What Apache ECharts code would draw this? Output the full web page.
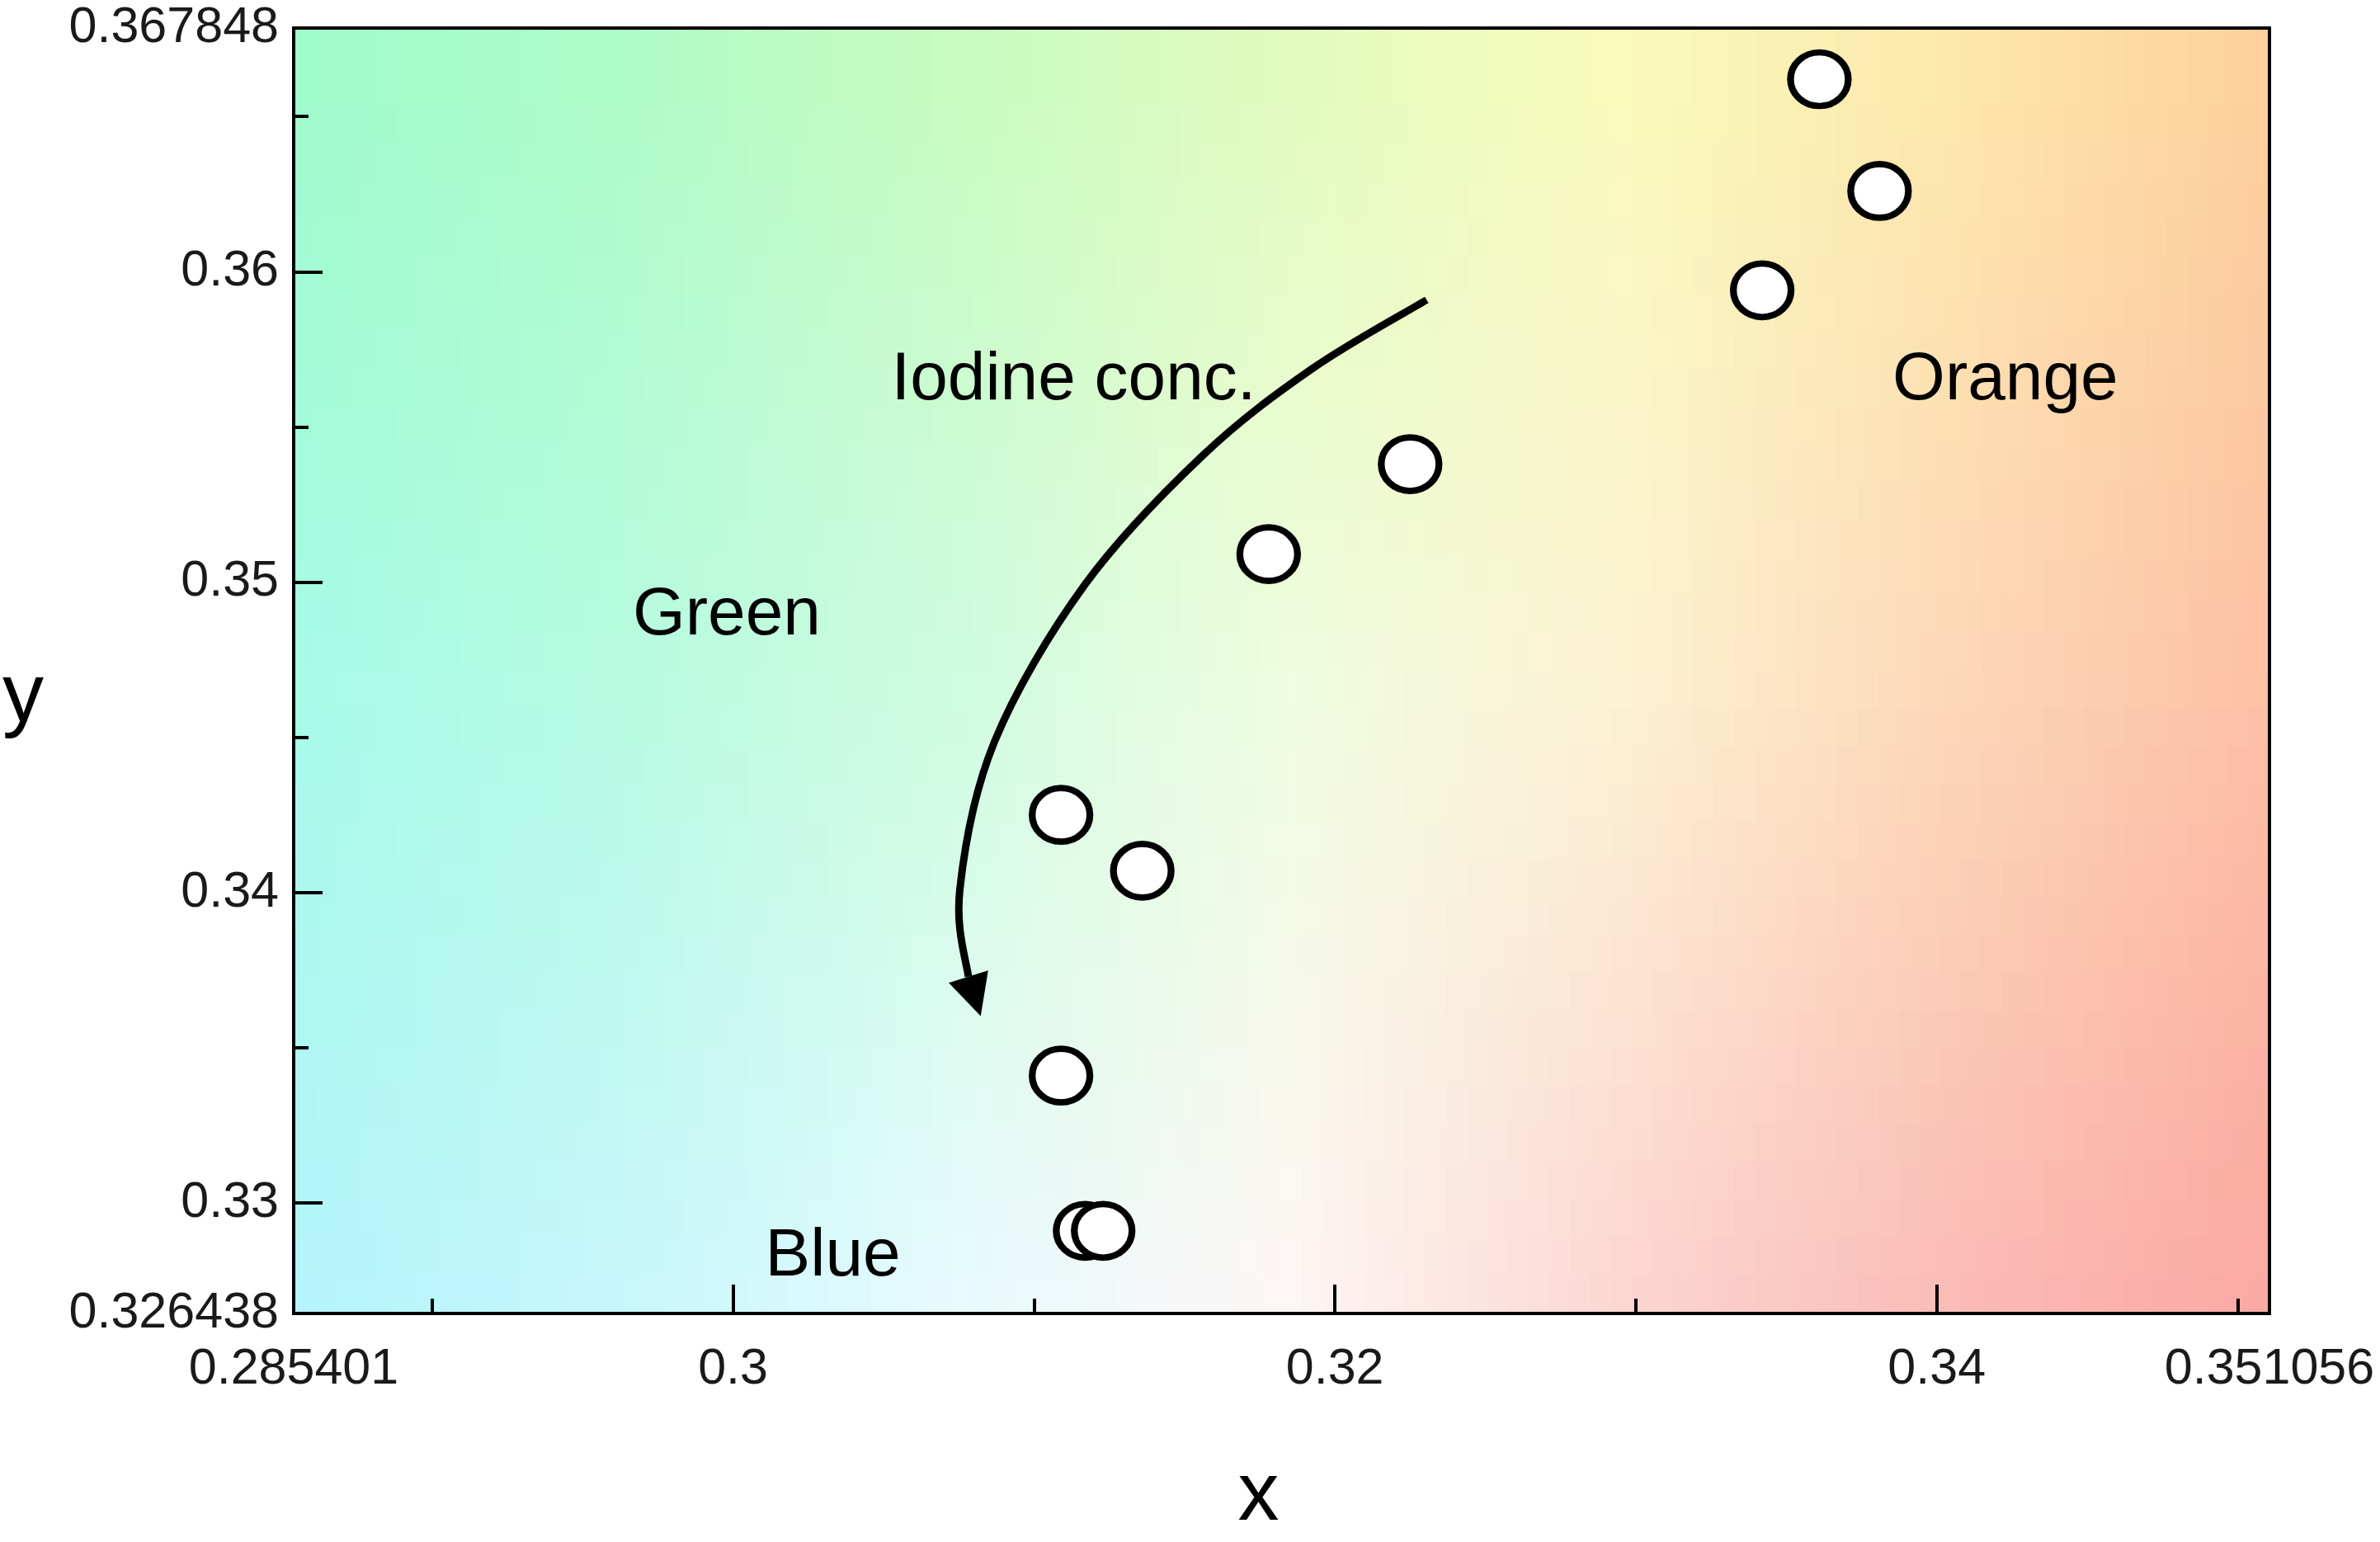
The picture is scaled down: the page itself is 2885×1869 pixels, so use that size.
<!DOCTYPE html>
<html>
<head>
<meta charset="utf-8">
<script src="https://cdn.jsdelivr.net/npm/echarts@6/dist/echarts.min.js"></script>
<style>
html,body{margin:0;padding:0;background:#ffffff;}
#chart{width:2885px;height:1869px;}
</style>
</head>
<body>
<div id="chart"></div>
<script>
// ---- axis ranges and tick labels ----
const X_MIN = 0.285401, X_MAX = 0.351056;
const Y_MIN = 0.326438, Y_MAX = 0.367848;
const xTickLabels = ['0.285401', '0.3', '0.32', '0.34', '0.351056'];
const yTickLabels = ['0.326438', '0.33', '0.34', '0.35', '0.36', '0.367848'];

// ---- chromaticity points (x, y) ----
const pointX = [0.3361, 0.3381, 0.3342, 0.3225, 0.3178, 0.3109, 0.3136, 0.3109, 0.3117, 0.3123];
const pointY = [0.3662, 0.3626, 0.3594, 0.3538, 0.3509, 0.3425, 0.3407, 0.3341, 0.3291, 0.3291];

// ---- "Iodine conc." arrow path (data coords); last point = arrow tip ----
const arrowX = [0.32305, 0.31927, 0.31560, 0.31168, 0.30869, 0.30754, 0.30783, 0.30823];
const arrowY = [0.35909, 0.35689, 0.35407, 0.34990, 0.34486, 0.34012, 0.33727, 0.33602];

// ---- annotation texts and their anchor points (data coords) ----
const annotationText = ['Iodine conc.', 'Green', 'Orange', 'Blue'];
const annotationX = [0.31132, 0.29979, 0.34228, 0.30332];
const annotationY = [0.35650, 0.34892, 0.35650, 0.32826];

// ---- background colour field (rows: top, middle, bottom; columns left -> right) ----
const bgTop    = ['#9ffccb', '#b0fcc7', '#c8fbc1', '#e2fbbe', '#f9fbbc', '#fde8ac', '#fdcf9c'];
const bgMid    = ['#a8fbe8', '#b8fbe2', '#d0fce0', '#f0fde0', '#fdf2d4', '#fdd8b8', '#fdc0a4'];
const bgBottom = ['#b5f4fc', '#c8f7fc', '#e8fbfe', '#fef6f5', '#fcd6d1', '#fbbcb7', '#fba8a3'];

const FONT = '"Liberation Sans", Arial, Helvetica, sans-serif';

function fmt(labels) {
  return function (v) {
    for (const l of labels) {
      if (Math.abs(parseFloat(l) - v) < 1e-7) return l;
    }
    return String(+v.toFixed(6));
  };
}

const chart = echarts.init(document.getElementById('chart'), null, {renderer: 'canvas'});

const scatterData = pointX.map((x, i) => [x, pointY[i]]);

function renderArrow(params, api) {
  if (params.dataIndex !== 0) return null;
  const pts = arrowX.map((x, i) => api.coord([x, arrowY[i]]));
  const n = pts.length;
  const tip = pts[n - 1];
  const headLen = 50, headHalf = 25;
  const prev = pts[n - 2];
  let ux = tip[0] - prev[0], uy = tip[1] - prev[1];
  const L = Math.hypot(ux, uy) || 1; ux /= L; uy /= L;
  const base = [tip[0] - ux * headLen, tip[1] - uy * headLen];
  const path = pts.slice(0, n - 1);
  path[path.length - 1] = base;
  const all = path.concat([tip]);
  let d = 'M' + path[0][0] + ' ' + path[0][1];
  for (let i = 0; i < path.length - 1; i++) {
    const p0 = all[i - 1] || all[i], p1 = all[i], p2 = all[i + 1], p3 = all[i + 2] || all[i + 1];
    const c1 = [p1[0] + (p2[0] - p0[0]) / 6, p1[1] + (p2[1] - p0[1]) / 6];
    const c2 = [p2[0] - (p3[0] - p1[0]) / 6, p2[1] - (p3[1] - p1[1]) / 6];
    d += ' C' + c1[0] + ' ' + c1[1] + ' ' + c2[0] + ' ' + c2[1] + ' ' + p2[0] + ' ' + p2[1];
  }
  const vx = -uy, vy = ux;
  return {
    type: 'group',
    children: [
      {type: 'path', shape: {pathData: d},
       style: {fill: null, stroke: '#000', lineWidth: 9, lineCap: 'butt', lineJoin: 'round'}},
      {type: 'polygon',
       shape: {points: [tip, [base[0] + vx * headHalf, base[1] + vy * headHalf], [base[0] - vx * headHalf, base[1] - vy * headHalf]]},
       style: {fill: '#000', stroke: null}}
    ]
  };
}

const tickStyle = {color: '#000', width: 4};

chart.setOption({
  animation: false,
  backgroundColor: '#ffffff',
  grid: {
    left: 355, top: 34, width: 2396, height: 1560,
    show: true, borderColor: '#000', borderWidth: 4, backgroundColor: 'transparent',
    containLabel: false
  },
  xAxis: {
    type: 'value', min: X_MIN, max: X_MAX,
    splitNumber: 3, minInterval: 0.02, maxInterval: 0.02,
    name: 'x', nameLocation: 'middle', nameGap: 172,
    nameTextStyle: {fontSize: 100, color: '#000', fontFamily: FONT, padding: [0, 56, 0, 0]},
    axisLine: {show: true, lineStyle: {color: '#000', width: 4}},
    axisTick: {show: true, inside: true, length: 35, lineStyle: tickStyle},
    minorTick: {show: true, splitNumber: 2, length: 18, lineStyle: tickStyle},
    splitLine: {show: false}, minorSplitLine: {show: false},
    axisLabel: {
      show: true, margin: 38, fontSize: 61, color: '#1a1a1a', fontFamily: FONT,
      showMinLabel: true, showMaxLabel: true, formatter: fmt(xTickLabels)
    }
  },
  yAxis: {
    type: 'value', min: Y_MIN, max: Y_MAX,
    splitNumber: 4, minInterval: 0.01, maxInterval: 0.01,
    name: 'y', nameLocation: 'middle', nameRotate: 0, nameGap: 303,
    nameTextStyle: {fontSize: 100, color: '#000', fontFamily: FONT, verticalAlign: 'top', lineHeight: 66},
    axisLine: {show: true, lineStyle: {color: '#000', width: 4}},
    axisTick: {show: true, inside: true, length: 35, lineStyle: tickStyle},
    minorTick: {show: true, splitNumber: 2, length: 18, lineStyle: tickStyle},
    splitLine: {show: false}, minorSplitLine: {show: false},
    axisLabel: {
      show: true, margin: 18, fontSize: 61, color: '#1a1a1a', fontFamily: FONT,
      showMinLabel: true, showMaxLabel: true, formatter: fmt(yTickLabels)
    }
  },
  series: [
    {
      name: 'Iodine conc. arrow', type: 'custom', silent: true, z: 3, clip: false,
      data: [[arrowX[0], arrowY[0]]],
      encode: {x: 0, y: 1},
      renderItem: renderArrow
    },
    {
      name: 'Chromaticity', type: 'scatter', data: scatterData,
      symbol: 'circle', symbolSize: [70, 65], z: 5,
      itemStyle: {color: '#ffffff', borderColor: '#000', borderWidth: 8, opacity: 1}
    }
  ]
});

function buildBackground(w, h) {
  const rows = [bgTop, bgMid, bgBottom];
  const n = bgTop.length;
  const tiny = document.createElement('canvas');
  tiny.width = n; tiny.height = rows.length;
  const tctx = tiny.getContext('2d');
  rows.forEach((row, r) => row.forEach((c, i) => { tctx.fillStyle = c; tctx.fillRect(i, r, 1, 1); }));
  const big = document.createElement('canvas');
  big.width = w; big.height = h;
  const ctx = big.getContext('2d');
  ctx.imageSmoothingEnabled = true;
  const dx = w / (n - 1);
  const dy = h * 0.47;
  ctx.drawImage(tiny, 0, 0, n, rows.length, -0.5 * dx, 0.03 * h - 0.5 * dy, n * dx, rows.length * dy);
  return big;
}

const p0 = chart.convertToPixel({gridIndex: 0}, [X_MIN, Y_MAX]);
const p1 = chart.convertToPixel({gridIndex: 0}, [X_MAX, Y_MIN]);
const gw = Math.round(p1[0] - p0[0]), gh = Math.round(p1[1] - p0[1]);
const bg = buildBackground(gw, gh);

const elements = [{
  type: 'image', z: -10, silent: true,
  x: p0[0], y: p0[1],
  style: {image: bg, x: 0, y: 0, width: gw, height: gh}
}];
annotationText.forEach((t, i) => {
  const p = chart.convertToPixel({gridIndex: 0}, [annotationX[i], annotationY[i]]);
  elements.push({
    type: 'text', z: 10, silent: true, x: p[0], y: p[1],
    style: {text: t, fill: '#000', font: '82px ' + FONT, align: 'center', verticalAlign: 'middle',
            textAlign: 'center', textVerticalAlign: 'middle'}
  });
});
chart.setOption({graphic: {elements: elements}});
</script>
</body>
</html>
